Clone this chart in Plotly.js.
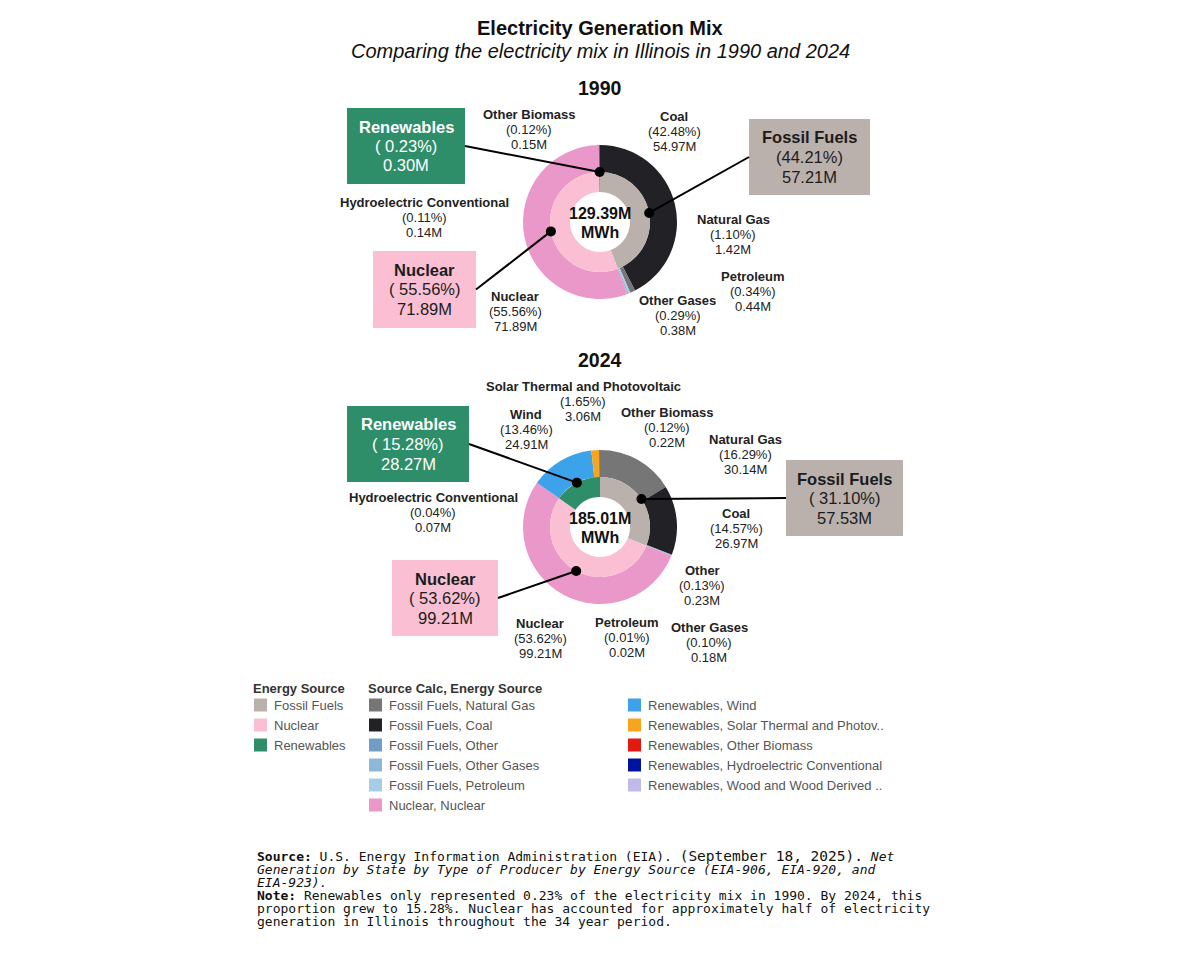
<!DOCTYPE html>
<html><head><meta charset="utf-8">
<script src="https://cdn.plot.ly/plotly-3.0.1.min.js"></script>
<style>html,body{margin:0;padding:0;background:#fff}</style>
</head><body><div id="chart" style="width:1200px;height:960px"></div>
<script>
// ---------------- DATA ----------------
const groups = ['Fossil Fuels', 'Nuclear', 'Renewables'];
const groupColors = ['#bab0ac', '#fabfd2', '#2f8e6a'];

const sources1990 = ['Coal', 'Natural Gas', 'Petroleum', 'Other Gases', 'Nuclear', 'Other Biomass', 'Hydroelectric Conventional'];
const parents1990 = ['Fossil Fuels', 'Fossil Fuels', 'Fossil Fuels', 'Fossil Fuels', 'Nuclear', 'Renewables', 'Renewables'];
const values1990 = [54.97, 1.42, 0.44, 0.38, 71.89, 0.15, 0.14];
const pct1990 = [42.48, 1.10, 0.34, 0.29, 55.56, 0.12, 0.11];
const groupValues1990 = [57.21, 71.89, 0.30];
const groupPct1990 = [44.21, 55.56, 0.23];
const total1990 = 129.39;

const sources2024 = ['Natural Gas', 'Coal', 'Other', 'Other Gases', 'Petroleum', 'Nuclear', 'Wind', 'Solar Thermal and Photovoltaic', 'Other Biomass', 'Hydroelectric Conventional'];
const parents2024 = ['Fossil Fuels', 'Fossil Fuels', 'Fossil Fuels', 'Fossil Fuels', 'Fossil Fuels', 'Nuclear', 'Renewables', 'Renewables', 'Renewables', 'Renewables'];
const values2024 = [30.14, 26.97, 0.23, 0.18, 0.02, 99.21, 24.91, 3.06, 0.22, 0.07];
const pct2024 = [16.29, 14.57, 0.13, 0.10, 0.01, 53.62, 13.46, 1.65, 0.12, 0.04];
const groupValues2024 = [57.53, 99.21, 28.27];
const groupPct2024 = [31.10, 53.62, 15.28];
const total2024 = 185.01;

const subKeys = ['Fossil Fuels, Natural Gas', 'Fossil Fuels, Coal', 'Fossil Fuels, Other', 'Fossil Fuels, Other Gases', 'Fossil Fuels, Petroleum', 'Nuclear, Nuclear',
  'Renewables, Wind', 'Renewables, Solar Thermal and Photovoltaic', 'Renewables, Other Biomass', 'Renewables, Hydroelectric Conventional', 'Renewables, Wood and Wood Derived Fuels'];
const subLegendLabels = ['Fossil Fuels, Natural Gas', 'Fossil Fuels, Coal', 'Fossil Fuels, Other', 'Fossil Fuels, Other Gases', 'Fossil Fuels, Petroleum', 'Nuclear, Nuclear',
  'Renewables, Wind', 'Renewables, Solar Thermal and Photov..', 'Renewables, Other Biomass', 'Renewables, Hydroelectric Conventional', 'Renewables, Wood and Wood Derived ..'];
const subColors = ['#767676', '#222226', '#729cc4', '#8db8d8', '#a5cde9', '#ea97c9',
  '#3ca2ea', '#f7a51c', '#e2190e', '#00139e', '#c3b9e8'];

// ---------------- LAYOUT HELPERS ----------------
const W = 1200, H = 960;
const FONT = 'Liberation Sans, Arial, sans-serif';
const MONO = 'DejaVu Sans Mono, monospace';
const px = x => x / W;
const py = y => 1 - y / H;
const colorOf = k => subColors[subKeys.indexOf(k)];

const annotations = [];
const shapes = [];

function addLines(x, y, lines, size, spacing, color, anchor, fam) {
  const n = lines.length;
  lines.forEach((t, k) => {
    annotations.push({
      xref: 'paper', yref: 'paper', x: px(x), y: py(y + (k - (n - 1) / 2) * spacing),
      xanchor: anchor || 'center', yanchor: 'middle', showarrow: false, text: t,
      font: { family: fam || FONT, size: size, color: color }
    });
  });
}

const R_OUT = 77, R_IN = 50, R_HOLE = 30, R_DOT = 50;
function dom(cx, cy, r) {
  return { x: [(cx - r) / W, (cx + r) / W], y: [1 - (cy + r) / H, 1 - (cy - r) / H] };
}

const charts = [
  { year: '1990', cy: 222, titleY: 88, sources: sources1990, parents: parents1990, values: values1990, pct: pct1990,
    gv: groupValues1990, gp: groupPct1990, total: total1990,
    labelPos: [[674, 131], [733, 234], [753, 291], [678, 315], [515, 312], [529, 130], [424, 217]],
    boxes: [[749, 870, 119, 195, false], [373, 476, 251, 328, true], [347, 465, 108, 184, true]] },
  { year: '2024', cy: 527, titleY: 360, sources: sources2024, parents: parents2024, values: values2024, pct: pct2024,
    gv: groupValues2024, gp: groupPct2024, total: total2024,
    labelPos: [[745, 455], [736, 528], [702, 585], [709, 642], [627, 637], [540, 638], [526, 429], [583, 402], [667, 427], [433, 512]],
    boxes: [[786, 903, 460, 536, true], [392, 498, 560, 636, true], [347, 469, 406, 482, true]] }
];
const boxTextColors = ['#1c1c1c', '#1c1c1c', '#ffffff'];

const traces = [];
const CX = 600;
charts.forEach(c => {
  const keys = c.sources.map((s, i) => c.parents[i] + ', ' + s);
  traces.push({
    type: 'pie', values: c.values, labels: keys, sort: false, direction: 'clockwise', rotation: 0,
    hole: R_IN / R_OUT, domain: dom(CX, c.cy, R_OUT), textinfo: 'none', hoverinfo: 'label+value',
    marker: { colors: keys.map(colorOf), line: { width: 0 } }, showlegend: false
  });
  traces.push({
    type: 'pie', values: c.gv, labels: groups, sort: false, direction: 'clockwise', rotation: 0,
    hole: R_HOLE / R_IN, domain: dom(CX, c.cy, R_IN), textinfo: 'none', hoverinfo: 'label+value',
    marker: { colors: groupColors, line: { width: 0 } }, showlegend: false
  });
  // year title
  addLines(CX, c.titleY, ['<b>' + c.year + '</b>'], 19.5, 0, '#111');
  // center total
  addLines(CX, c.cy + 0.5, ['<b>' + c.total.toFixed(2) + 'M</b>', '<b>MWh</b>'], 16, 19, '#111');
  // outer labels
  c.sources.forEach((s, i) => {
    const p = c.labelPos[i];
    addLines(p[0], p[1], ['<b>' + s + '</b>', '(' + c.pct[i].toFixed(2) + '%)', c.values[i].toFixed(2) + 'M'], 13, 15, '#222');
  });
  // callouts
  const gsum = c.gv.reduce((a, b) => a + b, 0);
  let cum = 0;
  c.gv.forEach((v, i) => {
    const th = (cum + v / 2) / gsum * 2 * Math.PI;
    cum += v;
    const dx = CX + R_DOT * Math.sin(th), dy = c.cy - R_DOT * Math.cos(th);
    const b = c.boxes[i];
    const bx = (b[0] + b[1]) / 2 < CX ? b[1] : b[0];
    const by = (b[2] + b[3]) / 2;
    shapes.push({ type: 'rect', xref: 'paper', yref: 'paper', x0: px(b[0]), x1: px(b[1]), y0: py(b[3]), y1: py(b[2]),
      fillcolor: groupColors[i], line: { width: 0 }, layer: 'above' });
    shapes.push({ type: 'line', xref: 'paper', yref: 'paper', x0: px(dx), y0: py(dy), x1: px(bx), y1: py(by),
      line: { color: '#000', width: 2 }, layer: 'above' });
    shapes.push({ type: 'circle', xref: 'paper', yref: 'paper', xsizemode: 'pixel', ysizemode: 'pixel',
      xanchor: px(dx), yanchor: py(dy), x0: -5, x1: 5, y0: -5, y1: 5, fillcolor: '#000', line: { width: 0 }, layer: 'above' });
    const pctTxt = (b[4] ? '( ' : '(') + c.gp[i].toFixed(2) + '%)';
    addLines((b[0] + b[1]) / 2, by, ['<b>' + groups[i] + '</b>', pctTxt, c.gv[i].toFixed(2) + 'M'], 16.5, 19.5, boxTextColors[i]);
  });
});

// titles
addLines(600, 28, ['<b>Electricity Generation Mix</b>'], 20, 0, '#111');
addLines(600, 51, ['<i>Comparing the electricity mix in Illinois in 1990 and 2024</i>'], 20, 0, '#111');

// legend (built from legend arrays)
const legTitleColor = '#333', legItemColor = '#555';
addLines(251, 688, ['<b>Energy Source</b>'], 13, 0, legTitleColor, 'left');
addLines(366, 688, ['<b>Source Calc, Energy Source</b>'], 13, 0, legTitleColor, 'left');
function legendItem(x, y, color, label) {
  shapes.push({ type: 'rect', xref: 'paper', yref: 'paper', x0: px(x), x1: px(x + 13), y0: py(y + 6.5), y1: py(y - 6.5),
    fillcolor: color, line: { width: 0 } });
  addLines(x + 18, y, [label], 13, 0, legItemColor, 'left');
}
groups.forEach((g, i) => legendItem(254, 705 + 20 * i, groupColors[i], g));
subLegendLabels.forEach((l, i) => {
  const col = i < 6 ? 0 : 1, row = i < 6 ? i : i - 6;
  legendItem(col === 0 ? 369 : 628, 705 + 20 * row, subColors[i], l);
});

// footnote
const foot = [
  '<b>Source:</b> U.S. Energy Information Administration (EIA). <span style="font-size:14.5px">(September 18, 2025).</span> <i>Net</i>',
  '<i>Generation by State by Type of Producer by Energy Source (EIA-906, EIA-920, and</i>',
  '<i>EIA-923).</i>',
  '<b>Note:</b> Renewables only represented 0.23% of the electricity mix in 1990. By 2024, this',
  'proportion grew to 15.28%. Nuclear has accounted for approximately half of electricity',
  'generation in Illinois throughout the 34 year period.'
];
foot.forEach((t, k) => addLines(255, 856 + 13 * k, [t], 13, 0, '#111', 'left', MONO));

Plotly.newPlot('chart', traces, {
  width: W, height: H, margin: { l: 0, r: 0, t: 0, b: 0 }, paper_bgcolor: '#fff', plot_bgcolor: '#fff',
  showlegend: false, annotations: annotations, shapes: shapes, font: { family: FONT }
}, { displayModeBar: false, staticPlot: true });
</script></body></html>
